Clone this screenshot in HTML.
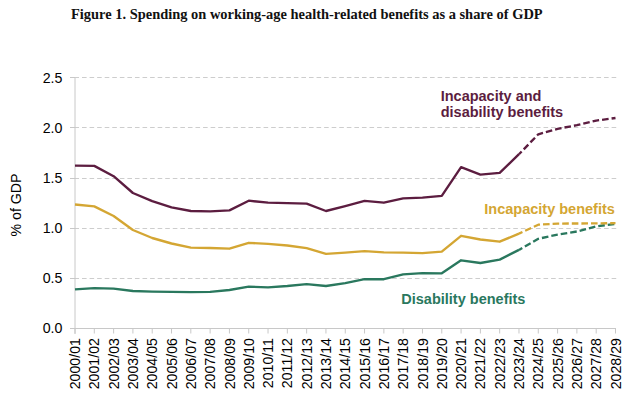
<!DOCTYPE html>
<html><head><meta charset="utf-8"><style>
html,body{margin:0;padding:0;background:#fff;width:634px;height:404px;overflow:hidden;font-family:"Liberation Sans",sans-serif;}
svg{display:block}
</style></head><body>
<svg width="634" height="404" viewBox="0 0 634 404">
<line x1="75" y1="77.5" x2="617" y2="77.5" stroke="#cdcdcd" stroke-width="1" stroke-dasharray="4.6,2.966" stroke-dashoffset="0.566"/>
<line x1="70" y1="77.5" x2="75" y2="77.5" stroke="#c8c8c8" stroke-width="1"/>
<line x1="75" y1="127.5" x2="617" y2="127.5" stroke="#cdcdcd" stroke-width="1" stroke-dasharray="4.6,2.966" stroke-dashoffset="0.566"/>
<line x1="70" y1="127.5" x2="75" y2="127.5" stroke="#c8c8c8" stroke-width="1"/>
<line x1="75" y1="178.5" x2="617" y2="178.5" stroke="#cdcdcd" stroke-width="1" stroke-dasharray="4.6,2.966" stroke-dashoffset="0.566"/>
<line x1="70" y1="178.5" x2="75" y2="178.5" stroke="#c8c8c8" stroke-width="1"/>
<line x1="75" y1="228.5" x2="617" y2="228.5" stroke="#cdcdcd" stroke-width="1" stroke-dasharray="4.6,2.966" stroke-dashoffset="0.566"/>
<line x1="70" y1="228.5" x2="75" y2="228.5" stroke="#c8c8c8" stroke-width="1"/>
<line x1="75" y1="278.5" x2="617" y2="278.5" stroke="#cdcdcd" stroke-width="1" stroke-dasharray="4.6,2.966" stroke-dashoffset="0.566"/>
<line x1="70" y1="278.5" x2="75" y2="278.5" stroke="#c8c8c8" stroke-width="1"/>
<line x1="75" y1="78" x2="75" y2="334" stroke="#c8c8c8" stroke-width="1"/>
<line x1="70" y1="328.5" x2="615.5" y2="328.5" stroke="#c8c8c8" stroke-width="1"/>
<line x1="75.00" y1="328" x2="75.00" y2="333.5" stroke="#c8c8c8" stroke-width="1"/>
<line x1="94.30" y1="328" x2="94.30" y2="333.5" stroke="#c8c8c8" stroke-width="1"/>
<line x1="113.61" y1="328" x2="113.61" y2="333.5" stroke="#c8c8c8" stroke-width="1"/>
<line x1="132.91" y1="328" x2="132.91" y2="333.5" stroke="#c8c8c8" stroke-width="1"/>
<line x1="152.21" y1="328" x2="152.21" y2="333.5" stroke="#c8c8c8" stroke-width="1"/>
<line x1="171.52" y1="328" x2="171.52" y2="333.5" stroke="#c8c8c8" stroke-width="1"/>
<line x1="190.82" y1="328" x2="190.82" y2="333.5" stroke="#c8c8c8" stroke-width="1"/>
<line x1="210.12" y1="328" x2="210.12" y2="333.5" stroke="#c8c8c8" stroke-width="1"/>
<line x1="229.43" y1="328" x2="229.43" y2="333.5" stroke="#c8c8c8" stroke-width="1"/>
<line x1="248.73" y1="328" x2="248.73" y2="333.5" stroke="#c8c8c8" stroke-width="1"/>
<line x1="268.04" y1="328" x2="268.04" y2="333.5" stroke="#c8c8c8" stroke-width="1"/>
<line x1="287.34" y1="328" x2="287.34" y2="333.5" stroke="#c8c8c8" stroke-width="1"/>
<line x1="306.64" y1="328" x2="306.64" y2="333.5" stroke="#c8c8c8" stroke-width="1"/>
<line x1="325.95" y1="328" x2="325.95" y2="333.5" stroke="#c8c8c8" stroke-width="1"/>
<line x1="345.25" y1="328" x2="345.25" y2="333.5" stroke="#c8c8c8" stroke-width="1"/>
<line x1="364.55" y1="328" x2="364.55" y2="333.5" stroke="#c8c8c8" stroke-width="1"/>
<line x1="383.86" y1="328" x2="383.86" y2="333.5" stroke="#c8c8c8" stroke-width="1"/>
<line x1="403.16" y1="328" x2="403.16" y2="333.5" stroke="#c8c8c8" stroke-width="1"/>
<line x1="422.46" y1="328" x2="422.46" y2="333.5" stroke="#c8c8c8" stroke-width="1"/>
<line x1="441.77" y1="328" x2="441.77" y2="333.5" stroke="#c8c8c8" stroke-width="1"/>
<line x1="461.07" y1="328" x2="461.07" y2="333.5" stroke="#c8c8c8" stroke-width="1"/>
<line x1="480.38" y1="328" x2="480.38" y2="333.5" stroke="#c8c8c8" stroke-width="1"/>
<line x1="499.68" y1="328" x2="499.68" y2="333.5" stroke="#c8c8c8" stroke-width="1"/>
<line x1="518.98" y1="328" x2="518.98" y2="333.5" stroke="#c8c8c8" stroke-width="1"/>
<line x1="538.29" y1="328" x2="538.29" y2="333.5" stroke="#c8c8c8" stroke-width="1"/>
<line x1="557.59" y1="328" x2="557.59" y2="333.5" stroke="#c8c8c8" stroke-width="1"/>
<line x1="576.89" y1="328" x2="576.89" y2="333.5" stroke="#c8c8c8" stroke-width="1"/>
<line x1="596.20" y1="328" x2="596.20" y2="333.5" stroke="#c8c8c8" stroke-width="1"/>
<line x1="615.50" y1="328" x2="615.50" y2="333.5" stroke="#c8c8c8" stroke-width="1"/>
<text x="62.4" y="82.5" text-anchor="end" font-family="Liberation Sans" font-size="14.2" fill="#000">2.5</text>
<text x="62.4" y="132.5" text-anchor="end" font-family="Liberation Sans" font-size="14.2" fill="#000">2.0</text>
<text x="62.4" y="182.5" text-anchor="end" font-family="Liberation Sans" font-size="14.2" fill="#000">1.5</text>
<text x="62.4" y="232.5" text-anchor="end" font-family="Liberation Sans" font-size="14.2" fill="#000">1.0</text>
<text x="62.4" y="282.5" text-anchor="end" font-family="Liberation Sans" font-size="14.2" fill="#000">0.5</text>
<text x="62.4" y="332.5" text-anchor="end" font-family="Liberation Sans" font-size="14.2" fill="#000">0.0</text>
<text transform="translate(80.10,338.0) rotate(-90)" text-anchor="end" font-family="Liberation Sans" font-size="14.2" fill="#000">2000/01</text>
<text transform="translate(99.40,338.0) rotate(-90)" text-anchor="end" font-family="Liberation Sans" font-size="14.2" fill="#000">2001/02</text>
<text transform="translate(118.71,338.0) rotate(-90)" text-anchor="end" font-family="Liberation Sans" font-size="14.2" fill="#000">2002/03</text>
<text transform="translate(138.01,338.0) rotate(-90)" text-anchor="end" font-family="Liberation Sans" font-size="14.2" fill="#000">2003/04</text>
<text transform="translate(157.31,338.0) rotate(-90)" text-anchor="end" font-family="Liberation Sans" font-size="14.2" fill="#000">2004/05</text>
<text transform="translate(176.62,338.0) rotate(-90)" text-anchor="end" font-family="Liberation Sans" font-size="14.2" fill="#000">2005/06</text>
<text transform="translate(195.92,338.0) rotate(-90)" text-anchor="end" font-family="Liberation Sans" font-size="14.2" fill="#000">2006/07</text>
<text transform="translate(215.22,338.0) rotate(-90)" text-anchor="end" font-family="Liberation Sans" font-size="14.2" fill="#000">2007/08</text>
<text transform="translate(234.53,338.0) rotate(-90)" text-anchor="end" font-family="Liberation Sans" font-size="14.2" fill="#000">2008/09</text>
<text transform="translate(253.83,338.0) rotate(-90)" text-anchor="end" font-family="Liberation Sans" font-size="14.2" fill="#000">2009/10</text>
<text transform="translate(273.14,338.0) rotate(-90)" text-anchor="end" font-family="Liberation Sans" font-size="14.2" fill="#000">2010/11</text>
<text transform="translate(292.44,338.0) rotate(-90)" text-anchor="end" font-family="Liberation Sans" font-size="14.2" fill="#000">2011/12</text>
<text transform="translate(311.74,338.0) rotate(-90)" text-anchor="end" font-family="Liberation Sans" font-size="14.2" fill="#000">2012/13</text>
<text transform="translate(331.05,338.0) rotate(-90)" text-anchor="end" font-family="Liberation Sans" font-size="14.2" fill="#000">2013/14</text>
<text transform="translate(350.35,338.0) rotate(-90)" text-anchor="end" font-family="Liberation Sans" font-size="14.2" fill="#000">2014/15</text>
<text transform="translate(369.65,338.0) rotate(-90)" text-anchor="end" font-family="Liberation Sans" font-size="14.2" fill="#000">2015/16</text>
<text transform="translate(388.96,338.0) rotate(-90)" text-anchor="end" font-family="Liberation Sans" font-size="14.2" fill="#000">2016/17</text>
<text transform="translate(408.26,338.0) rotate(-90)" text-anchor="end" font-family="Liberation Sans" font-size="14.2" fill="#000">2017/18</text>
<text transform="translate(427.56,338.0) rotate(-90)" text-anchor="end" font-family="Liberation Sans" font-size="14.2" fill="#000">2018/19</text>
<text transform="translate(446.87,338.0) rotate(-90)" text-anchor="end" font-family="Liberation Sans" font-size="14.2" fill="#000">2019/20</text>
<text transform="translate(466.17,338.0) rotate(-90)" text-anchor="end" font-family="Liberation Sans" font-size="14.2" fill="#000">2020/21</text>
<text transform="translate(485.48,338.0) rotate(-90)" text-anchor="end" font-family="Liberation Sans" font-size="14.2" fill="#000">2021/22</text>
<text transform="translate(504.78,338.0) rotate(-90)" text-anchor="end" font-family="Liberation Sans" font-size="14.2" fill="#000">2022/23</text>
<text transform="translate(524.08,338.0) rotate(-90)" text-anchor="end" font-family="Liberation Sans" font-size="14.2" fill="#000">2023/24</text>
<text transform="translate(543.39,338.0) rotate(-90)" text-anchor="end" font-family="Liberation Sans" font-size="14.2" fill="#000">2024/25</text>
<text transform="translate(562.69,338.0) rotate(-90)" text-anchor="end" font-family="Liberation Sans" font-size="14.2" fill="#000">2025/26</text>
<text transform="translate(581.99,338.0) rotate(-90)" text-anchor="end" font-family="Liberation Sans" font-size="14.2" fill="#000">2026/27</text>
<text transform="translate(601.30,338.0) rotate(-90)" text-anchor="end" font-family="Liberation Sans" font-size="14.2" fill="#000">2027/28</text>
<text transform="translate(620.60,338.0) rotate(-90)" text-anchor="end" font-family="Liberation Sans" font-size="14.2" fill="#000">2028/29</text>
<text transform="translate(21,205) rotate(-90)" text-anchor="middle" font-family="Liberation Sans" font-size="14.2" fill="#000">% of GDP</text>
<polyline points="75.00,289.40 94.30,288.10 113.61,288.60 132.91,291.00 152.21,291.60 171.52,291.90 190.82,292.10 210.12,291.90 229.43,290.00 248.73,286.70 268.04,287.30 287.34,286.00 306.64,284.10 325.95,286.00 345.25,283.10 364.55,279.20 383.86,279.20 403.16,274.30 422.46,273.20 441.77,273.30 461.07,260.30 480.38,263.00 499.68,259.60 518.98,249.90" fill="none" stroke="#2a785e" stroke-width="2.35" stroke-linejoin="round"/>
<polyline points="518.98,249.90 538.29,238.80 557.59,234.60 576.89,231.50 596.20,226.40 615.50,223.90" fill="none" stroke="#2a785e" stroke-width="2.35" stroke-dasharray="6.6,3.0" stroke-dashoffset="2.8" stroke-linejoin="round"/>
<polyline points="75.00,204.50 94.30,206.40 113.61,216.00 132.91,230.00 152.21,238.00 171.52,243.50 190.82,247.60 210.12,248.00 229.43,248.70 248.73,242.80 268.04,243.90 287.34,245.50 306.64,248.20 325.95,253.90 345.25,252.60 364.55,251.10 383.86,252.30 403.16,252.60 422.46,253.20 441.77,251.60 461.07,235.80 480.38,239.50 499.68,241.70 518.98,233.60" fill="none" stroke="#d4a633" stroke-width="2.35" stroke-linejoin="round"/>
<polyline points="518.98,233.60 538.29,224.70 557.59,223.60 576.89,223.50 596.20,223.40 615.50,223.20" fill="none" stroke="#d4a633" stroke-width="2.35" stroke-dasharray="6.6,3.0" stroke-dashoffset="2.8" stroke-linejoin="round"/>
<polyline points="75.00,165.60 94.30,165.90 113.61,176.20 132.91,193.00 152.21,201.10 171.52,207.40 190.82,211.00 210.12,211.40 229.43,210.40 248.73,200.70 268.04,202.70 287.34,203.20 306.64,203.60 325.95,211.00 345.25,206.10 364.55,200.90 383.86,202.70 403.16,198.40 422.46,197.70 441.77,195.80 461.07,167.20 480.38,174.60 499.68,172.90 518.98,154.20" fill="none" stroke="#5c1d40" stroke-width="2.35" stroke-linejoin="round"/>
<polyline points="518.98,154.20 538.29,134.30 557.59,128.80 576.89,125.20 596.20,120.60 615.50,118.00" fill="none" stroke="#5c1d40" stroke-width="2.35" stroke-dasharray="6.6,3.0" stroke-dashoffset="2.8" stroke-linejoin="round"/>
<text x="440.7" y="101" font-family="Liberation Sans" font-weight="bold" font-size="14.5" fill="#5c1d40">Incapacity and</text>
<text x="440.7" y="116.5" font-family="Liberation Sans" font-weight="bold" font-size="14.5" fill="#5c1d40">disability benefits</text>
<text x="484.3" y="213.5" font-family="Liberation Sans" font-weight="bold" font-size="14.5" fill="#d4a633">Incapacity benefits</text>
<text x="401.3" y="303.8" font-family="Liberation Sans" font-weight="bold" font-size="14.5" fill="#2a785e">Disability benefits</text>
<text x="71" y="18.9" font-family="Liberation Serif" font-weight="bold" font-size="14.45" fill="#111">Figure 1. Spending on working-age health-related benefits as a share of GDP</text>
</svg>
</body></html>
